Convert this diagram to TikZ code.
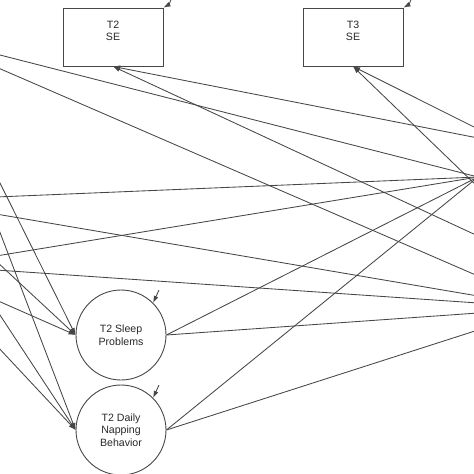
\documentclass[tikz,border=0pt]{standalone}
\usepackage{fontspec}
\setmainfont{Liberation Sans}
\usepackage{tikz}
\usetikzlibrary{arrows.meta,positioning,calc}
\definecolor{pathgray}{RGB}{70,70,70}
\definecolor{textgray}{RGB}{40,40,40}

\begin{document}
\begin{tikzpicture}[x=1pt, y=-1pt,
    obsbox/.style={draw=pathgray, line width=0.9pt, minimum width=100pt, minimum height=58pt, align=center, text=textgray, font=\fontsize{10.6}{12.6}\selectfont},
    latent/.style={draw=pathgray, line width=0.9pt, circle, minimum size=90pt, inner sep=0pt, align=center, text=textgray, font=\fontsize{10.6}{12.6}\selectfont},
    reg/.style={draw=pathgray, line width=0.85pt, -{Latex[length=7pt,width=5pt]}},
    cut/.style={draw=pathgray, line width=0.85pt}]
    % frame of the cut-out
    \useasboundingbox (0,0) rectangle (474,474);
    \clip (0,0) rectangle (474,474);

    % observed and latent variables
    \node[obsbox] (t2se) at (113,37) {T2\\SE\\~};
    \node[obsbox] (t3se) at (353,37) {T3\\SE\\~};
    \node[latent] (sleep) at (121,335) {T2 Sleep\\Problems};
    \node[latent] (napping) at (121,430) {T2 Daily\\Napping\\Behavior};

    % ends outside the cut-out
    \coordinate (hub) at (478,177);
    \coordinate (l1) at (-4,54);
    \coordinate (l2) at (-4,67);
    \coordinate (l3) at (-4,197);
    \coordinate (l4) at (-4,214);
    \coordinate (l5) at (-4,256);
    \coordinate (l6) at (-4,270);
    \coordinate (l7) at (-4,175);
    \coordinate (l8) at (-4,261);
    \coordinate (l9) at (-4,300);
    \coordinate (l10) at (-4,222);
    \coordinate (l11) at (-4,309);
    \coordinate (l12) at (-4,345);
    \coordinate (r1) at (478,276);
    \coordinate (r2) at (478,296);
    \coordinate (r3) at (478,303);
    \coordinate (r4) at (478,313);
    \coordinate (r5) at (478,330);
    \coordinate (r6) at (478,187);
    \coordinate (ra) at (478,138);
    \coordinate (rb) at (478,236);
    \coordinate (rk) at (478,129);
    \coordinate (e2) at (172,-4);
    \coordinate (e3) at (412,-4);
    \coordinate (es) at (159,290);
    \coordinate (en) at (159,385);

    % paths crossing the picture
    \draw[cut] (l1) -- (hub);
    \draw[cut] (l3) -- (hub);
    \draw[cut] (l5) -- (hub);
    \draw[cut] (l2) -- (r1);
    \draw[cut] (l4) -- (r2);
    \draw[cut] (l6) -- (r3);

    % into the latent variables
    \draw[reg] (l7) -- (sleep.west);
    \draw[reg] (l8) -- (sleep.west);
    \draw[reg] (l9) -- (sleep.west);
    \draw[reg] (l10) -- (napping.west);
    \draw[reg] (l11) -- (napping.west);
    \draw[reg] (l12) -- (napping.west);

    % out of the latent variables
    \draw[cut] (sleep.east) -- (hub);
    \draw[cut] (sleep.east) -- (r4);
    \draw[cut] (napping.east) -- (hub);
    \draw[cut] (napping.east) -- (r5);

    % into SE
    \draw[reg] (ra) -- (t2se.south);
    \draw[reg] (rb) -- (t2se.south);
    \draw[reg] (rk) -- (t3se.south);
    \draw[reg] (r6) -- (t3se.south);

    % residuals
    \draw[reg] (e2) to[bend left=25] (t2se.north east);
    \draw[reg] (e3) to[bend left=25] (t3se.north east);
    \draw[reg] (es) -- (sleep.north east);
    \draw[reg] (en) -- (napping.north east);
\end{tikzpicture}
\end{document}
